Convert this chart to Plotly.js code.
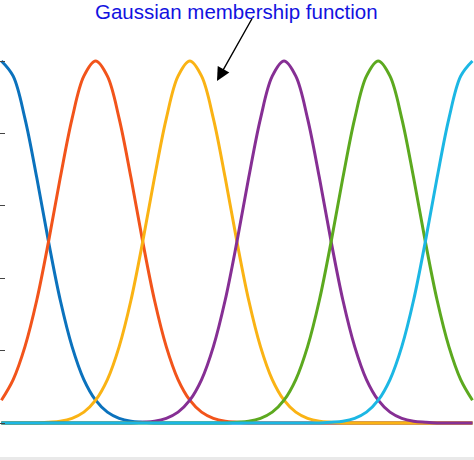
<!DOCTYPE html>
<html>
<head>
<meta charset="utf-8">
<script src="https://cdn.plot.ly/plotly-3.0.1.min.js"></script>
<style>
  html, body { margin: 0; padding: 0; background: #fff; }
  #chart { width: 474px; height: 460px; }
</style>
</head>
<body>
<div id="chart"></div>
<script>
'use strict';

// x grid, step 0.025
var xs = [0, 0.025, 0.05, 0.075, 0.1, 0.125, 0.15, 0.175, 0.2, 0.225,
	0.25, 0.275, 0.3, 0.325, 0.35, 0.375, 0.4, 0.425, 0.45, 0.475,
	0.5, 0.525, 0.55, 0.575, 0.6, 0.625, 0.65, 0.675, 0.7, 0.725,
	0.75, 0.775, 0.8, 0.825, 0.85, 0.875, 0.9, 0.925, 0.95, 0.975, 1];

// membership values (one row per curve)
var mf1 = [1, .958, .841, .678, .501, .339, .211, .120, .063, .030, .013, .005, .002,
	0, 0, 0, 0, 0, 0, 0, 0, 0, 0, 0, 0, 0, 0, 0, 0, 0, 0, 0, 0, 0, 0, 0, 0, 0, 0, 0, 0];
var mf2 = [.063, .120, .211, .339, .501, .678, .841, .958, 1, .958, .841, .678, .501,
	.339, .211, .120, .063, .030, .013, .005, .002,
	0, 0, 0, 0, 0, 0, 0, 0, 0, 0, 0, 0, 0, 0, 0, 0, 0, 0, 0, 0];
var mf3 = [0, 0, 0, 0, .002, .005, .013, .030, .063, .120, .211, .339, .501, .678, .841,
	.958, 1, .958, .841, .678, .501, .339, .211, .120, .063, .030, .013, .005, .002,
	0, 0, 0, 0, 0, 0, 0, 0, 0, 0, 0, 0];
var mf4 = [0, 0, 0, 0, 0, 0, 0, 0, 0, 0, 0, 0, .002, .005, .013, .030, .063, .120, .211,
	.339, .501, .678, .841, .958, 1, .958, .841, .678, .501, .339, .211, .120, .063,
	.030, .013, .005, .002, 0, 0, 0, 0];
var mf5 = [0, 0, 0, 0, 0, 0, 0, 0, 0, 0, 0, 0, 0, 0, 0, 0, 0, 0, 0, 0, .002, .005, .013,
	.030, .063, .120, .211, .339, .501, .678, .841, .958, 1, .958, .841, .678, .501,
	.339, .211, .120, .063];
var mf6 = [0, 0, 0, 0, 0, 0, 0, 0, 0, 0, 0, 0, 0, 0, 0, 0, 0, 0, 0, 0, 0, 0, 0, 0, 0, 0,
	0, 0, .002, .005, .013, .030, .063, .120, .211, .339, .501, .678, .841, .958, 1];

var colors = ['#0b72bd', '#f2541b', '#fab314', '#862f94', '#5ca91f', '#1cb7e4'];
var yTicks = [0, 0.2, 0.4, 0.6, 0.8, 1];
var label = 'Gaussian membership function';

var data = [mf1, mf2, mf3, mf4, mf5, mf6].map(function (ys, i) {
	return {
		x: xs, y: ys, type: 'scatter', mode: 'lines',
		line: {color: colors[i], width: 3, shape: 'spline', smoothing: 1},
		hoverinfo: 'skip'
	};
});

var layout = {
	width: 474,
	height: 460,
	margin: {l: 0, r: 0, t: 0, b: 3, pad: 0},
	paper_bgcolor: '#e9e9e9',
	plot_bgcolor: '#ffffff',
	showlegend: false,
	xaxis: {
		range: [-0.003, 1.0033],
		showgrid: false, zeroline: false, showline: false,
		showticklabels: false, ticks: ''
	},
	yaxis: {
		range: [-0.0939, 1.1685],
		tickvals: yTicks,
		ticks: 'inside', ticklen: 5, tickwidth: 1, tickcolor: '#444',
		showgrid: false, zeroline: false, showline: false,
		showticklabels: false
	},
	annotations: [{
		text: label,
		xref: 'paper', yref: 'paper',
		x: 0.498, y: 1, xanchor: 'center', yanchor: 'top',
		yshift: 1, borderpad: 0,
		showarrow: false,
		font: {family: 'Liberation Sans, Arial, sans-serif', size: 20.5, color: '#1212e0'}
	}, {
		text: '',
		xref: 'x', yref: 'y', axref: 'x', ayref: 'y',
		x: 0.4577, y: 0.945, ax: 0.534, ay: 1.1215,
		showarrow: true, arrowhead: 2, arrowsize: 1.9, arrowwidth: 1.4,
		arrowcolor: '#000'
	}]
};

Plotly.newPlot('chart', data, layout, {staticPlot: true});
</script>
</body>
</html>
